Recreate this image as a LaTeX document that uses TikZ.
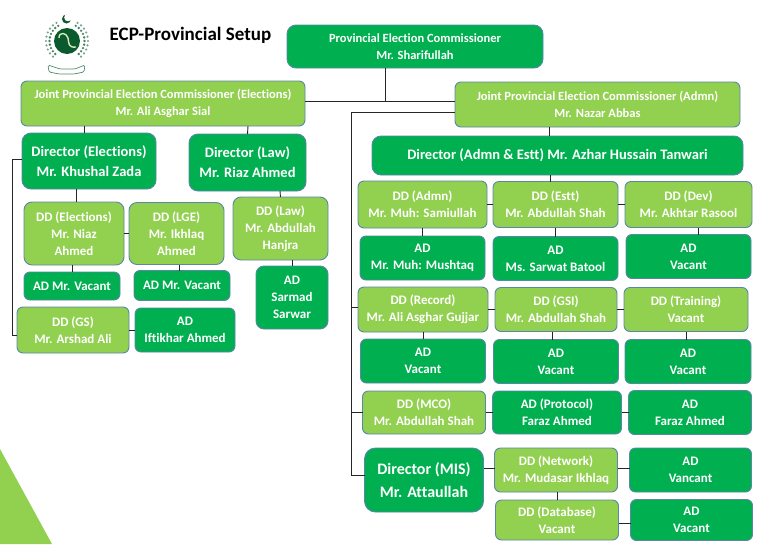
\documentclass[tikz,border=0pt]{standalone}
\usepackage{fontspec}
\setmainfont{Carlito}[Ligatures=NoCommon]
\usepackage{xcolor}
\usetikzlibrary{positioning}
\definecolor{ecpdark}{HTML}{00B050}
\definecolor{ecplight}{HTML}{92D050}
\definecolor{ecpedge}{HTML}{5A86A8}
\definecolor{ecpseal}{HTML}{0B5A2E}

\begin{document}
\begin{tikzpicture}[
    x=1pt, y=1pt,
    node distance=7pt,
    box/.style={draw=ecpedge, line width=0.9pt, rounded corners=6pt, align=center,
    text=white, inner sep=0pt, outer sep=0pt, font=\fontsize{13}{17}\selectfont\bfseries,
    minimum width=125pt, minimum height=44pt},
    ddbox/.style={box, fill=ecplight},
    adbox/.style={box, fill=ecpdark},
    dirbox/.style={box, fill=ecpdark, rounded corners=9pt,
    font=\fontsize{14.5}{20}\selectfont\bfseries},
    jointfont/.style={font=\fontsize{12.5}{17}\selectfont\bfseries},
    arr/.style={line width=0.9pt, draw=black!85}
]
\useasboundingbox (0,0) rectangle (768,-544);
\fill[ecplight] (0,-449) -- (52,-544) -- (0,-544) -- cycle;

\node[font=\fontsize{19}{22}\selectfont\bfseries, inner sep=0pt] (title) at (190.5,-35) {ECP-Provincial Setup};
\fill[ecpseal] (66.5,-19) circle (4.5);
\fill[white] (68,-17.5) circle (3.8);
\fill[ecpseal] (67,-41) circle (13);
\draw[white!60!ecplight, line width=1.4pt] (59,-38) .. controls (59,-31) and (67,-33) .. (68,-38) .. controls (69,-43) and (68,-48) .. (76,-47);
\foreach \ang in {-48,-36,...,60} {
    \fill[ecpseal!75] (67,-41) ++(\ang:17.5) circle (1.3);
    \fill[ecpseal!75] (67,-41) ++(180-\ang:17.5) circle (1.3);
    \fill[ecpseal!55] (67,-41) ++(\ang:21) circle (1.2);
    \fill[ecpseal!55] (67,-41) ++(180-\ang:21) circle (1.2);
}
\draw[ecpseal!70, fill=white, line width=0.7pt, rounded corners=1.5pt] (48,-65) -- (60,-69) -- (75,-69) -- (85,-65) -- (84,-72) -- (74,-74) -- (59,-74) -- (49,-72) -- cycle;

\node[dirbox, jointfont, minimum width=256pt, minimum height=43pt] (pec) at (415,-46.5) {Provincial Election Commissioner\\Mr. Sharifullah};
\node[ddbox, jointfont, minimum width=284pt, minimum height=45pt, below=13pt of pec, xshift=-252pt] (jpe) {Joint Provincial Election Commissioner (Elections)\\Mr. Ali Asghar Sial};
\node[ddbox, jointfont, minimum width=285pt, minimum height=45pt, below=14pt of pec, xshift=182.5pt] (jpa) {Joint Provincial Election Commissioner (Admn)\\Mr. Nazar Abbas};

\node[dirbox, minimum width=134pt, minimum height=56pt, below=7pt of jpe, xshift=-74pt] (dire) {Director (Elections)\\Mr. Khushal Zada};
\node[dirbox, minimum width=117pt, minimum height=57pt, below=8pt of jpe, xshift=84.5pt] (dirl) {Director (Law)\\Mr. Riaz Ahmed};
\node[ddbox, rounded corners=8pt, minimum width=100pt, minimum height=63pt, below=13pt of dire, xshift=-15pt] (dde) {DD (Elections)\\Mr. Niaz\\Ahmed};
\node[ddbox, rounded corners=8pt, minimum width=95pt, minimum height=62pt, right=5pt of dde] (ddg) {DD (LGE)\\Mr. Ikhlaq\\Ahmed};
\node[ddbox, rounded corners=8pt, minimum width=95pt, minimum height=63pt, below=6pt of dirl, xshift=33pt] (ddl) {DD (Law)\\Mr. Abdullah\\Hanjra};
\node[adbox, minimum width=96pt, minimum height=28pt, below=7pt of dde, xshift=-2pt] (ade) {AD Mr. Vacant};
\node[adbox, minimum width=96pt, minimum height=30pt, below=6pt of ddg, xshift=5.5pt] (adg) {AD Mr. Vacant};
\node[adbox, rounded corners=8pt, minimum width=72pt, minimum height=63pt, below=6pt of ddl, xshift=11.5pt] (adl) {AD\\Sarmad\\Sarwar};
\node[ddbox, minimum width=112pt, minimum height=46pt, below=7pt of ade, xshift=1pt] (dds) {DD (GS)\\Mr. Arshad Ali};
\node[adbox, minimum width=100pt, right=6pt of dds] (adi) {AD\\Iftikhar Ahmed};

\node[dirbox, minimum width=371pt, minimum height=39pt, below=9pt of jpa, xshift=-40pt] (dira) {Director (Admn \& Estt) Mr. Azhar Hussain Tanwari};
\node[ddbox, minimum width=129pt, minimum height=47pt, below=6pt of dira, xshift=-135pt] (dda) {DD (Admn)\\Mr. Muh: Samiullah};
\node[ddbox, minimum height=46pt, right=6pt of dda] (ddt) {DD (Estt)\\Mr. Abdullah Shah};
\node[ddbox, minimum width=127pt, minimum height=46pt, right=7pt of ddt] (ddv) {DD (Dev)\\Mr. Akhtar Rasool};
\node[adbox, below=8pt of dda] (ada) {AD\\Mr. Muh: Mushtaq};
\node[adbox, below=9pt of ddt] (adt) {AD\\Ms. Sarwat Batool};
\node[adbox, below=7pt of ddv] (adv) {AD\\Vacant};

\node[ddbox, minimum width=130pt, minimum height=45pt, below=7pt of ada, xshift=0.5pt] (ddr) {DD (Record)\\Mr. Ali Asghar Gujjar};
\node[ddbox, minimum width=122pt, right=7pt of ddr] (ddi) {DD (GSI)\\Mr. Abdullah Shah};
\node[ddbox, minimum width=124pt, right=7pt of ddi] (ddn) {DD (Training)\\Vacant};
\node[adbox, below=7pt of ddr] (adr) {AD\\Vacant};
\node[adbox, below=8pt of ddi] (adc) {AD\\Vacant};
\node[adbox, minimum width=126pt, below=8pt of ddn, xshift=2pt] (adn) {AD\\Vacant};

\node[ddbox, minimum width=123pt, minimum height=43pt, below=8pt of adr, xshift=1pt] (ddm) {DD (MCO)\\Mr. Abdullah Shah};
\node[adbox, minimum width=129pt, minimum height=43pt, right=7pt of ddm] (adp) {AD (Protocol)\\Faraz Ahmed};
\node[adbox, minimum width=123pt, right=7pt of adp] (adf) {AD\\Faraz Ahmed};

\node[dirbox, rounded corners=11pt, font=\fontsize{16}{23}\selectfont\bfseries, minimum width=119pt, minimum height=64pt, below=14pt of ddm] (dirm) {Director (MIS)\\Mr. Attaullah};
\node[ddbox, minimum width=123pt, right=11pt of dirm, yshift=10pt] (ddw) {DD (Network)\\Mr. Mudasar Ikhlaq};
\node[adbox, minimum width=122pt, right=12pt of ddw] (adw) {AD\\Vancant};
\node[ddbox, minimum width=123pt, minimum height=40pt, below=8pt of ddw, xshift=1pt] (ddb) {DD (Database)\\Vacant};
\node[adbox, minimum width=122pt, minimum height=41pt, right=12pt of ddb] (adb) {AD\\Vacant};

\coordinate (trunk) at (351,-112);

\draw[arr] ([yshift=2pt]jpe.east) -- ([yshift=2pt]jpe.east -| jpa.west);
\draw[arr] ([xshift=-30pt]pec.south) -- ++(0,-33.5pt);
\draw[arr] (trunk) -- (trunk -| jpa.west);
\draw[arr] (trunk) |- ([yshift=5pt]dirm.west);
\draw[arr] ([yshift=2pt]ddr.west) -- ([yshift=2pt]ddr.west -| trunk);
\draw[arr] (ddm.west) -- (ddm.west -| trunk);

\draw[arr] ([xshift=-79pt]jpe.south) -- ([xshift=-5pt]dire.north);
\draw[arr] ([xshift=85pt]jpe.south) -- (dirl.north);
\draw[arr] ([xshift=-13pt]dire.south) -- ([xshift=2pt]dde.north);
\draw[arr] ([xshift=32.5pt]dirl.south) -- (ddl.north);
\draw[arr] ([yshift=2pt]dire.west) -- ++(-10pt,0) |- ([yshift=-5pt]dds.west);
\draw[arr] (dde) -- (ddg);
\draw[arr] ([xshift=-2pt]dde.south) -- (ade.north);
\draw[arr] ([xshift=2.5pt]ddg.south) -- ([xshift=-3pt]adg.north);
\draw[arr] ([xshift=11.5pt]ddl.south) -- (adl.north);
\draw[arr] (dds) -- (adi);

\draw[arr] ([xshift=-48.5pt]jpa.south) -- ([xshift=-8.5pt]dira.north);
\draw[arr] ([xshift=-7.5pt]dira.south) -- ([xshift=-5.5pt]ddt.north);
\draw[arr] (dda) -- (ddt);
\draw[arr] (ddt) -- (ddv);
\draw[arr] (dda) -- (ada);
\draw[arr] (ddt) -- (adt);
\draw[arr] ([xshift=9.5pt]ddv.south) -- ([xshift=9.5pt]adv.north);

\draw[arr] (ddr) -- (ddi);
\draw[arr] (ddi) -- (ddn);
\draw[arr] (ddr) -- (adr);
\draw[arr] ([xshift=-4pt]ddi.south) -- ([xshift=-4pt]adc.north);
\draw[arr] (ddn.south) -- ([xshift=-2pt]adn.north);

\draw[arr] (ddm) -- (adp);
\draw[arr] (adp) -- (adf);

\draw[arr] ([yshift=12pt]dirm.east) -- ([yshift=2pt]ddw.west);
\draw[arr] ([yshift=2pt]ddw.east) -- ([yshift=2pt]adw.west);
\draw[arr] ([xshift=1.5pt]ddw.south) -- ([xshift=0.5pt]ddb.north);
\draw[arr] ([yshift=-3pt]ddb.east) -- ([yshift=-3pt]adb.west);
\end{tikzpicture}
\end{document}
